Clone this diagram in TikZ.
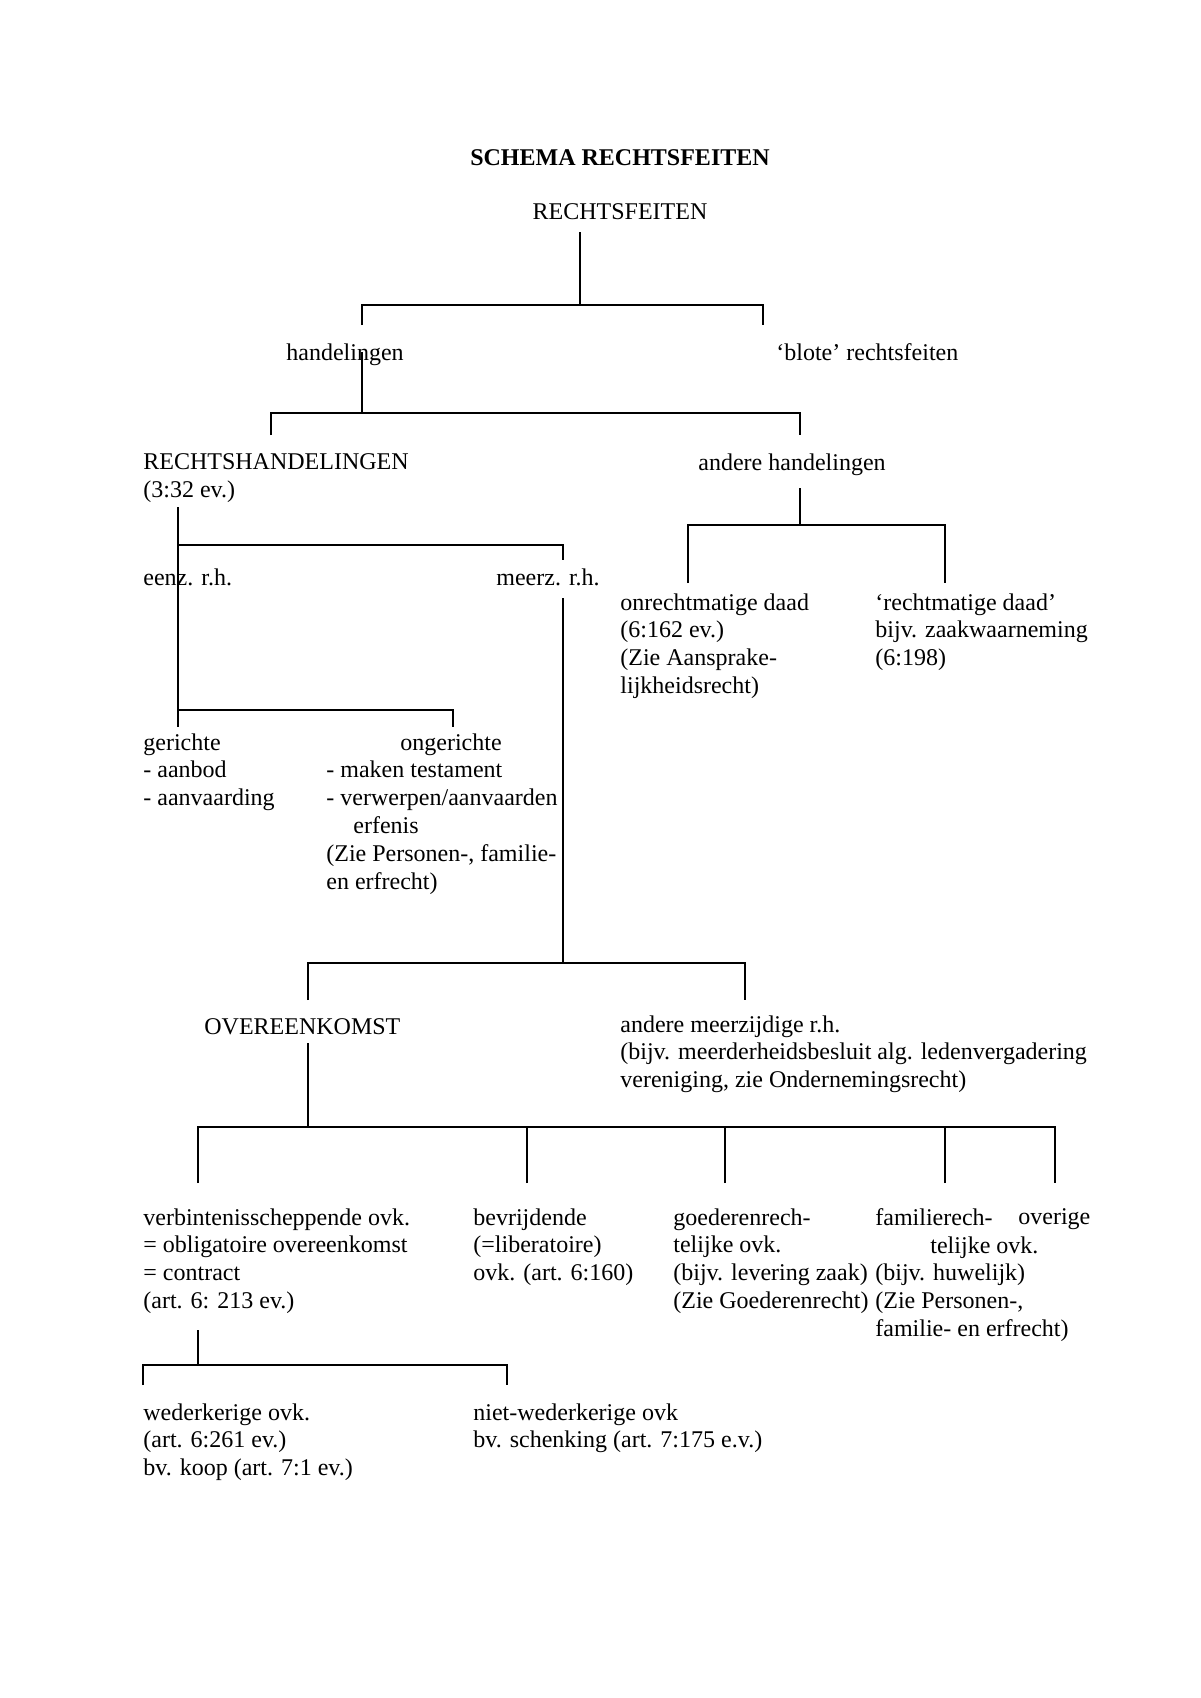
\documentclass[tikz,border=0pt]{standalone}
\usepackage{fontspec}
\setmainfont{Liberation Serif}
\begin{document}
\begin{tikzpicture}[x=0.5pt,y=0.5pt,yscale=-1,xscale=1,
  lbl/.style={anchor=north west,inner sep=0pt,align=left,font=\fontsize{12}{13.9}\selectfont,execute at begin node=\strut},
  tree/.style={line width=1.4pt}]
\useasboundingbox (0,0) rectangle (1200,1698);
\node [anchor=base,inner sep=0pt,font=\fontsize{12}{13.9}\selectfont\bfseries] (title) at (620,165) {SCHEMA RECHTSFEITEN};
\node [anchor=base,inner sep=0pt,font=\fontsize{12}{13.9}\selectfont] (rf) at (620,219) {RECHTSFEITEN};
\node [lbl] (hand) at (286,341) {handelingen};
\node [lbl] (blote) at (776,341) {‘blote’ rechtsfeiten};
\node [lbl] (rh) at (143,453) {RECHTSHANDELINGEN\\(3:32 ev.)};
\node [lbl] (andh) at (698,451) {andere handelingen};
\node [lbl] (od) at (620,593) {onrechtmatige daad\\(6:162 ev.)\\(Zie Aansprake-\\lijkheidsrecht)};
\node [lbl] (rd) at (875,593) {‘rechtmatige daad’\\bijv. zaakwaarneming\\(6:198)};
\node [lbl] (eenz) at (143,566) {eenz. r.h.};
\node [lbl] (meerz) at (496,566) {meerz. r.h.};
\node [lbl] (ger) at (143,733) {gerichte\\- aanbod\\- aanvaarding};
\node [lbl] (onger) at (326,733) {\hspace*{37pt}ongerichte\\- maken testament\\- verwerpen/aanvaarden\\\hspace*{13.5pt}erfenis\\(Zie Personen-, familie-\\en erfrecht)};
\node [lbl] (ovk) at (204,1015) {OVEREENKOMST};
\node [lbl] (amr) at (620,1015) {andere meerzijdige r.h.\\(bijv. meerderheidsbesluit alg. ledenvergadering\\vereniging, zie Ondernemingsrecht)};
\node [lbl] (vb) at (143,1208) {verbintenisscheppende ovk.\\= obligatoire overeenkomst\\= contract\\(art. 6: 213 ev.)};
\node [lbl] (bev) at (473,1208) {bevrijdende\\(=liberatoire)\\ovk. (art. 6:160)};
\node [lbl] (goed) at (673,1208) {goederenrech-\\telijke ovk.\\(bijv. levering zaak)\\(Zie Goederenrecht)};
\node [lbl] (fam) at (875,1208) {familierech-\\\hspace*{27.5pt}telijke ovk.\\(bijv. huwelijk)\\(Zie Personen-,\\familie- en erfrecht)};
\node [lbl] (ovr) at (1018,1205) {overige};
\node [lbl] (wed) at (143,1403) {wederkerige ovk.\\(art. 6:261 ev.)\\bv. koop (art. 7:1 ev.)};
\node [lbl] (nwed) at (473,1403) {niet-wederkerige ovk\\bv. schenking (art. 7:175 e.v.)};
\coordinate (rf0) at (580,232);
\coordinate (rf1) at (580,305);
\coordinate (hand0) at (362,325);
\coordinate (blote0) at (763,325);
\draw [tree] (rf0) -- (rf1);
\draw [tree] (hand0) |- (rf1) -| (blote0);
\coordinate (hand1) at (362,352);
\coordinate (hand2) at (362,413);
\coordinate (rh0) at (271,435);
\coordinate (andh0) at (800,435);
\draw [tree] (hand1) -- (hand2);
\draw [tree] (rh0) |- (hand2) -| (andh0);
\coordinate (andh1) at (800,488);
\coordinate (andh2) at (800,525);
\coordinate (od0) at (688,583);
\coordinate (rd0) at (945,583);
\draw [tree] (andh1) -- (andh2);
\draw [tree] (od0) |- (andh2) -| (rd0);
\coordinate (rh1) at (178,507);
\coordinate (rh2) at (178,545);
\coordinate (meerz0) at (563,560);
\coordinate (eenz1) at (178,710);
\coordinate (ger0) at (178,727);
\coordinate (onger0) at (453,727);
\draw [tree] (rh1) -- (ger0);
\draw [tree] (rh2) -| (meerz0);
\draw [tree] (eenz1) -| (onger0);
\coordinate (meerz1) at (563,598);
\coordinate (meerz2) at (563,963);
\coordinate (ovk0) at (308,1000);
\coordinate (amr0) at (745,1000);
\draw [tree] (meerz1) -- (meerz2);
\draw [tree] (ovk0) |- (meerz2) -| (amr0);
\coordinate (ovk1) at (308,1043);
\coordinate (ovk2) at (308,1127);
\coordinate (vb0) at (198,1183);
\coordinate (bev0) at (527,1183);
\coordinate (goed0) at (725,1183);
\coordinate (fam0) at (945,1183);
\coordinate (ovr0) at (1055,1183);
\draw [tree] (ovk1) -- (ovk2);
\draw [tree] (vb0) |- (ovk2) -| (ovr0);
\draw [tree] (bev0) -- (bev0 |- ovk2);
\draw [tree] (goed0) -- (goed0 |- ovk2);
\draw [tree] (fam0) -- (fam0 |- ovk2);
\coordinate (vb1) at (198,1330);
\coordinate (vb2) at (198,1365);
\coordinate (wed0) at (143,1385);
\coordinate (nwed0) at (507,1385);
\draw [tree] (vb1) -- (vb2);
\draw [tree] (wed0) |- (vb2) -| (nwed0);
\end{tikzpicture}
\end{document}
